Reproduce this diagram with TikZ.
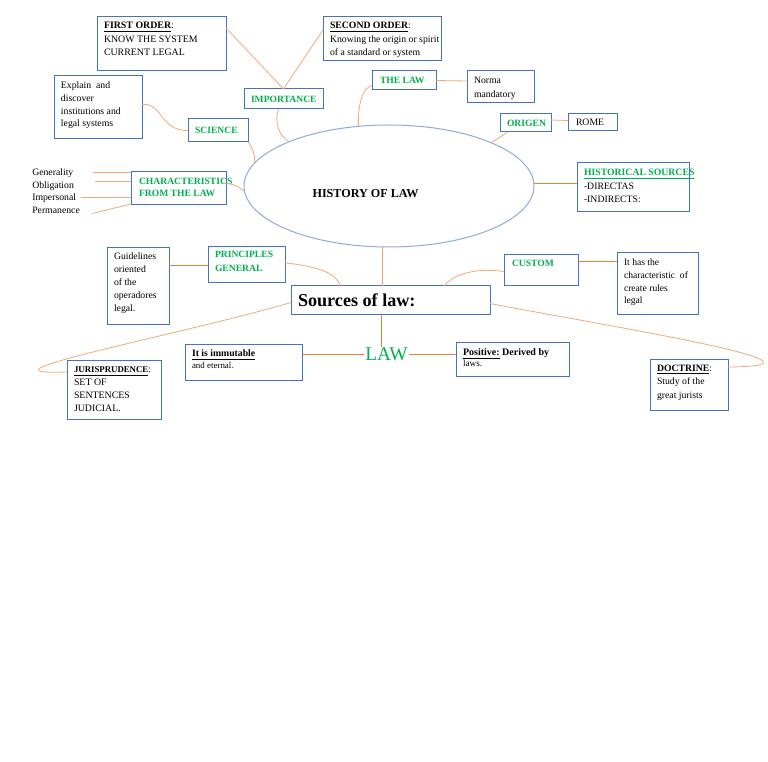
\documentclass[tikz,border=0pt]{standalone}
\usepackage{fontspec}
\setmainfont{Liberation Serif}
\usetikzlibrary{shapes.geometric,calc}
\definecolor{bxblue}{HTML}{4472C4}
\definecolor{elblue}{HTML}{8FAADC}
\definecolor{lnor}{HTML}{F4A878}
\definecolor{lnord}{HTML}{ED7D31}
\definecolor{grn}{HTML}{00B050}
\newlength\pxl \setlength\pxl{0.75pt}
\newcommand\fsz[2]{\fontsize{#1}{#2}\selectfont}
\newcommand\toppos[1]{\vskip\dimexpr #1\pxl-\baselineskip\relax\prevdepth=0pt\relax}
\newcommand\mbx[7]{\node[bxs] (#1) at (#2,#3) {\parbox[c][#5\pxl][#6]{#4\pxl}{\leftskip=7\pxl\rightskip=-30\pxl plus 1fil\parfillskip=0pt\relax #7}};}
\tikzset{
  bxs/.style={draw=bxblue, line width=0.75pt, inner sep=0pt, outer sep=0pt, anchor=north west},
  ln/.style={draw=lnor, line width=0.6pt},
  lnd/.style={draw=lnord, line width=0.6pt},
  lbl/.style={inner sep=0pt, anchor=base west, font=\fsz{7.3}{9}}
}
\begin{document}
\begin{tikzpicture}[x=0.75pt,y=-0.75pt]
\fill[white] (0,0) rectangle (768,762);
\useasboundingbox (0,0) rectangle (768,762);

% boxes
\mbx{first}{97}{17}{129}{54}{t}{\fsz{7.4}{10}\toppos{12}\textbf{\underline{FIRST ORDER}}:\\KNOW THE SYSTEM\\CURRENT LEGAL}
\mbx{second}{323}{17}{118}{44}{t}{\fsz{7.3}{10}\toppos{12}\textbf{\underline{SECOND ORDER}}:\\Knowing the origin or spirit\\of a standard or system}
\mbx{explain}{54}{76}{88}{63}{t}{\fsz{7.3}{9.5}\toppos{13}Explain~ and\\discover\\institutions and\\legal systems}
\mbx{imp}{244}{89}{79}{20}{c}{\fsz{7.2}{9}\color{grn}\bfseries IMPORTANCE}
\mbx{sci}{188}{119}{60}{23}{c}{\fsz{7.2}{9}\color{grn}\bfseries SCIENCE}
\mbx{thelaw}{372}{71}{64}{19}{c}{\fsz{7.2}{9}\color{grn}\bfseries\hspace*{1\pxl}THE LAW}
\mbx{norma}{467}{71}{67}{32}{t}{\fsz{7.3}{10}\toppos{13}Norma\\mandatory}
\mbx{origen}{500}{114}{51}{18}{c}{\fsz{7.2}{9}\color{grn}\bfseries ORIGEN}
\mbx{rome}{568}{114}{49}{17}{c}{\fsz{7.3}{9}\hspace*{1\pxl}ROME}
\mbx{char}{131}{172}{95}{33}{t}{\fsz{7.2}{9}\toppos{13}\color{grn}\bfseries\hspace*{1\pxl}CHARACTERISTICS\\\hspace*{1\pxl}FROM THE LAW}
\mbx{hs}{577}{163}{112}{49}{t}{\fsz{7.3}{10}\toppos{13}{\color{grn}\bfseries\underline{HISTORICAL SOURCES}}\\-DIRECTAS\\-INDIRECTS:}
\mbx{guide}{107}{248}{62}{77}{t}{\fsz{7.3}{9.7}\toppos{12}Guidelines\\oriented\\of the\\operadores\\legal.}
\mbx{prin}{208}{247}{77}{36}{t}{\fsz{7.2}{10.5}\toppos{11}\color{grn}\bfseries PRINCIPLES\\GENERAL}
\mbx{custom}{504}{255}{74}{31}{t}{\fsz{7.2}{9}\toppos{12}\color{grn}\bfseries\hspace*{1\pxl}CUSTOM}
\mbx{ithas}{617}{253}{81}{62}{t}{\fsz{7.2}{9.4}\toppos{13}It has the\\characteristic~ of\\create rules\\legal}
\mbx{src}{291}{286}{199}{29}{c}{\fsz{13.6}{15}\bfseries Sources of law:}
\mbx{imm}{185}{345}{117}{36}{t}{\fsz{7.3}{8.8}\toppos{12}\textbf{\underline{It is immutable}}\\\fsz{6.7}{8.8}and eternal.}
\mbx{pos}{456}{343}{113}{34}{t}{\fsz{7.5}{8}\toppos{13}\textbf{\underline{Positive:} Derived by}\\\fsz{6.9}{8}laws.}
\mbx{juris}{67}{361}{94}{59}{t}{\fsz{7.4}{9.6}\toppos{12}{\fsz{6.6}{9.6}\textbf{\underline{JURISPRUDENCE}}}:\\SET OF\\SENTENCES\\JUDICIAL.}
\mbx{doc}{650}{360}{78}{51}{t}{\fsz{7.3}{10}\toppos{11.5}\textbf{\underline{DOCTRINE}}:\\Study of the\\great jurists}

% central ellipse
\node[draw=elblue, line width=0.75pt, ellipse, minimum width=217.5pt, minimum height=91.5pt, inner sep=0pt] (hist) at (389,186) {};
\node[font=\fsz{9.1}{11}\bfseries, anchor=base, inner sep=0pt] (histtxt) at (365.5,198) {HISTORY OF LAW};

% LAW
\node[font=\fsz{14.5}{16}, text=grn, inner sep=0.5pt] (law) at (386.5,354) {LAW};

% characteristic labels
\node[lbl] (gen) at (32,176) {Generality};
\node[lbl] (obl) at (32,188.5) {Obligation};
\node[lbl] (imper) at (32,201) {Impersonal};
\node[lbl] (perm) at (32,213.5) {Permanence};

% connectors
\draw[ln] ($(first.north east)+(0,11)$) -- (imp.north);
\draw[ln] ($(second.north west)+(0,13)$) -- (imp.north);
\draw[ln] ($(imp.south)+(-5,0)$) .. controls (274,122) and (279,136) .. (hist.156.5);
\draw[ln] ($(explain.east)+(0,-3)$) .. controls (162,102) and (160,131) .. (sci.west);
\draw[ln] (sci.south east) .. controls (253,148) and (255,155) .. (hist.170.3);
\draw[ln] ($(thelaw.west)+(0,5)$) .. controls (362,88) and (358,105) .. (hist.117.5);
\draw[ln] (thelaw.east) -- ($(norma.north west)+(0,10)$);
\draw[ln] ($(origen.south west)+(8,0)$) -- (hist.23.8);
\draw[ln] ($(origen.east)+(0,-3)$) -- ($(rome.west)+(0,-2)$);
\draw[lnd] (hist.1.6) -- (hist.1.6 -| hs.west);
\draw[ln] ($(gen.base east)+(19,-3.3)$) coordinate (g1) -- (g1 -| char.west);
\draw[ln] ($(obl.base east)+(21,-6.8)$) coordinate (o1) -- (o1 -| char.west);
\draw[ln] ($(imper.base east)+(5,-3.3)$) coordinate (i1) -- (i1 -| char.west);
\draw[ln] ($(perm.base east)+(12,0)$) -- ($(char.south west)+(0,-1)$);
\draw[ln] ($(char.east)+(0,-5)$) .. controls (236,184) and (241,189) .. (hist.182.4);
\draw[ln] (hist.264.4) -- (hist.264.4 |- src.north);
\draw[lnd] (prin.west) -- (prin.west -| guide.east);
\draw[ln] ($(prin.east)+(0,-2)$) .. controls (318,266) and (338,274) .. ($(src.north west)+(49,0)$);
\draw[ln] ($(custom.west)+(0,1)$) .. controls (472,267) and (452,276) .. ($(src.north east)+(-46,0)$);
\draw[lnd] ($(custom.north east)+(0,6)$) coordinate (c1) -- (c1 -| ithas.west);
\draw[lnd] ($(src.south west)+(90,0)$) coordinate (s1) -- (s1 |- law.north);
\draw[lnd] (law.west) -- (law.west -| imm.east);
\draw[lnd] (law.east) -- (law.east -| pos.west);
\draw[ln] ($(src.west)+(0,2)$) .. controls (180,335) and (-40,376) .. ($(juris.north west)+(0,11)$);
\draw[ln] ($(src.east)+(0,3)$) .. controls (590,323) and (860,366) .. ($(doc.north east)+(0,7)$);
\end{tikzpicture}
\end{document}
